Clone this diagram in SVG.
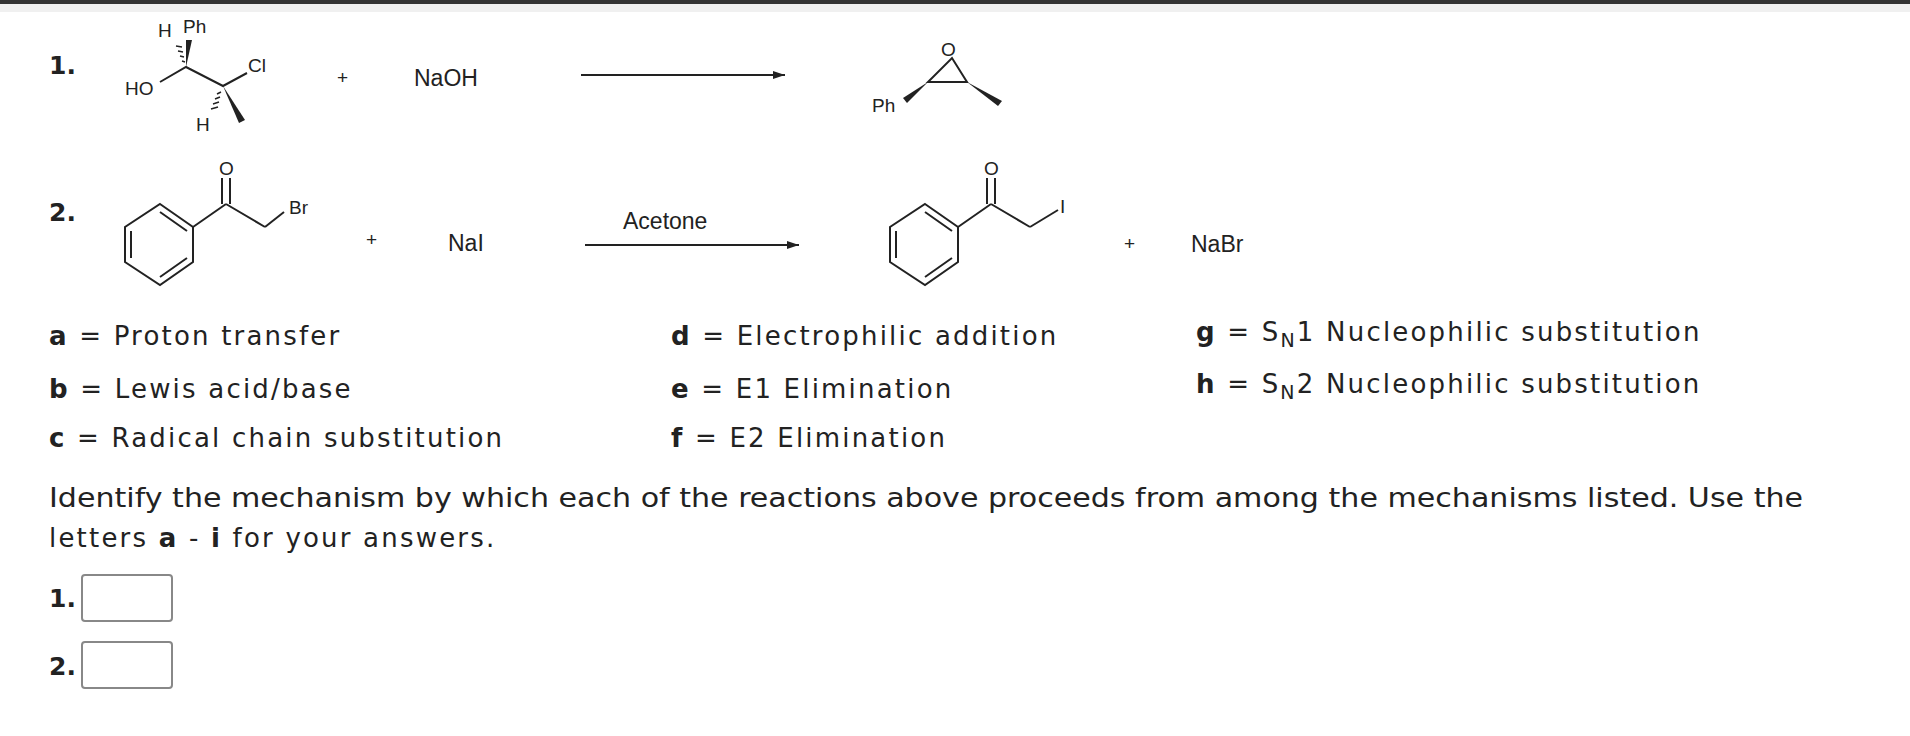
<svg xmlns="http://www.w3.org/2000/svg" width="1910" height="736" viewBox="0 0 1910 736">
<style>
.c{font-family:"Liberation Sans",Arial,sans-serif;font-size:19px;fill:#222}
.r{font-size:23px}
.t{font-family:"DejaVu Sans",Verdana,sans-serif;font-size:26px;fill:#222;letter-spacing:2.2px}
.b{font-weight:bold}
.num{font-family:"DejaVu Sans",Verdana,sans-serif;font-size:25px;font-weight:bold;fill:#222}
.bd{stroke:#222;stroke-width:2;fill:none}
.box{fill:#fff;stroke:#888;stroke-width:2}
</style>
<defs>
<marker id="ah" markerWidth="12" markerHeight="8" refX="12" refY="4" orient="auto" markerUnits="userSpaceOnUse"><path d="M0,0 L12,4 L0,8 Z" fill="#222"/></marker>
<g id="phco">
<path class="bd" d="M160,204 L193,227 L193,262 L160,285 L125,262 L125,227 Z"/>
<path class="bd" d="M160,212 L187,231 M187,258 L160,277 M131,258 L131,231"/>
<path class="bd" d="M193,227 L226,204 M222,204 L222,178 M230,204 L230,178 M226,204 L265,227"/>
</g>
</defs>
<rect x="0" y="0" width="1910" height="4" fill="#333"/>
<rect x="0" y="4" width="1910" height="8" fill="#f0f0f0"/>
<g id="reaction1">
<text class="num" x="49" y="74">1.</text>
<g id="reactant1">
<path class="bd" d="M160,82 L186,67 L223,86 L247,73"/>
<path d="M186,67 L186,40 L192,40 Z" fill="#222"/>
<path d="M223,86 L239,123 L245,120 Z" fill="#222"/>
<path stroke="#222" stroke-width="1.5" d="M185,62 L182,61 M184,57 L180,56 M183,52 L178,51 M182,47 L176,46 M221,92 L217,94 M220,97 L215,99 M219,102 L213,104 M218,107 L211,109"/>
<text class="c" x="158" y="37">H</text><text class="c" x="183" y="33">Ph</text>
<text class="c" x="125" y="95">HO</text><text class="c" x="248" y="72">Cl</text>
<text class="c" x="196" y="131">H</text>
</g>
<text class="c" x="337" y="84">+</text>
<text class="c r" x="414" y="86">NaOH</text>
<g id="conn1"><line class="bd" x1="581" y1="75" x2="785" y2="75" marker-end="url(#ah)"/></g>
<g id="product1">
<path class="bd" d="M928,82 L967,82 L952,58 Z"/>
<path d="M928,82 L903,98 L907,103 Z" fill="#222"/>
<path d="M967,82 L998,106 L1002,101 Z" fill="#222"/>
<text class="c" x="941" y="56">O</text>
<text class="c" x="872" y="112">Ph</text>
</g>
</g>
<g id="reaction2">
<text class="num" x="49" y="221">2.</text>
<g id="reactant2">
<use href="#phco"/>
<path class="bd" d="M265,227 L284,212"/>
<text class="c" x="219" y="175">O</text>
<text class="c" x="289" y="214">Br</text>
</g>
<text class="c" x="366" y="246">+</text>
<text class="c r" x="448" y="251">NaI</text>
<text class="c r" x="623" y="229">Acetone</text>
<g id="conn2"><line class="bd" x1="585" y1="245" x2="799" y2="245" marker-end="url(#ah)"/></g>
<g id="product2">
<use href="#phco" x="765"/>
<path class="bd" d="M1030,227 L1058,210"/>
<text class="c" x="984" y="175">O</text>
<text class="c" x="1060" y="213">I</text>
</g>
<text class="c" x="1124" y="250">+</text>
<text class="c r" x="1191" y="252">NaBr</text>
</g>
<g id="legend">
<text class="t" x="49" y="345"><tspan class="b">a</tspan> = Proton transfer</text>
<text class="t" x="49" y="398"><tspan class="b">b</tspan> = Lewis acid/base</text>
<text class="t" x="49" y="447"><tspan class="b">c</tspan> = Radical chain substitution</text>
<text class="t" x="671" y="345"><tspan class="b">d</tspan> = Electrophilic addition</text>
<text class="t" x="671" y="398"><tspan class="b">e</tspan> = E1 Elimination</text>
<text class="t" x="671" y="447"><tspan class="b">f</tspan> = E2 Elimination</text>
<text class="t" x="1196" y="341"><tspan class="b">g</tspan> = S<tspan font-size="19" dy="6">N</tspan><tspan dy="-6">1 Nucleophilic substitution</tspan></text>
<text class="t" x="1196" y="393"><tspan class="b">h</tspan> = S<tspan font-size="19" dy="6">N</tspan><tspan dy="-6">2 Nucleophilic substitution</tspan></text>
</g>
<text class="t" x="49" y="507" style="letter-spacing:0" textLength="1754" lengthAdjust="spacingAndGlyphs">Identify the mechanism by which each of the reactions above proceeds from among the mechanisms listed. Use the</text>
<text class="t" x="49" y="547">letters <tspan class="b">a</tspan> - <tspan class="b">i</tspan> for your answers.</text>
<g id="answer1"><text class="num" x="49" y="607">1.</text><rect class="box" x="82" y="575" width="90" height="46" rx="3"/></g>
<g id="answer2"><text class="num" x="49" y="675">2.</text><rect class="box" x="82" y="642" width="90" height="46" rx="3"/></g>
</svg>
